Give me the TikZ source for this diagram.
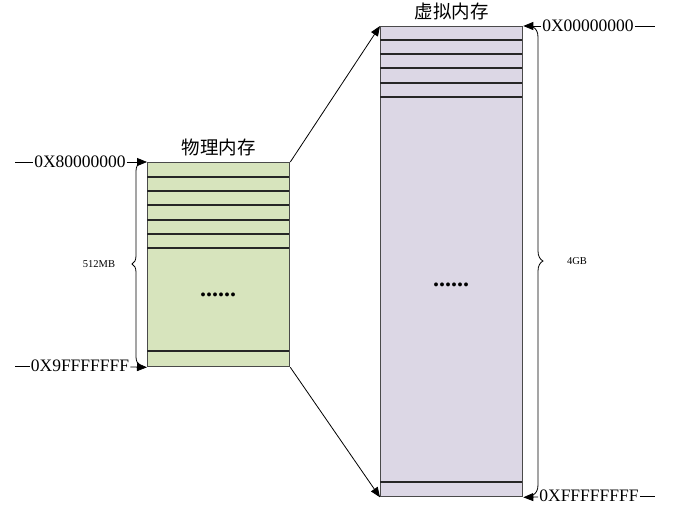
\documentclass[tikz,border=0pt]{standalone}
\usepackage{fontspec}
\setmainfont{Liberation Serif}
\newfontfamily\cjkfont{Noto Sans CJK SC}
\usetikzlibrary{arrows.meta,decorations.pathreplacing,positioning}
\definecolor{memPhys}{HTML}{D7E4BD}
\definecolor{memVirt}{HTML}{DCD7E5}
\definecolor{memEdge}{HTML}{4A4A4A}
\tikzset{
  mem diagram/.style={x=1pt, y=-1pt, line join=miter},
  mem box/.style={draw=memEdge, line width=1.3pt, minimum width=142pt,
    inner sep=0pt, anchor=north west},
  mem row/.style={draw=black!85, line width=1.1pt},
  mem arrow/.style={-{Triangle[length=10pt,width=8pt]}, draw=black, line width=0.8pt},
  mem lead/.style={draw=black, line width=0.8pt},
  addr label/.style={font=\fontsize{17.5}{17.5}\selectfont, inner sep=1pt},
  size label/.style={font=\fontsize{10.5}{10.5}\selectfont},
  mem title/.style={font=\cjkfont\fontsize{18.5}{18.5}\selectfont},
  mem dots/.style={font=\bfseries\fontsize{24}{24}\selectfont},
  mem brace/.style={decorate, decoration={brace, amplitude=8pt},
    draw=black, line width=0.8pt}
}
\begin{document}
\begin{tikzpicture}[mem diagram]
\useasboundingbox (0,0) rectangle (697,517);
% physical memory
\node[mem box, fill=memPhys, minimum height=204pt] (phys) at (147,162) {};
\foreach \y in {177,191,205,220,234,248,351}
  \draw[mem row] (147,\y) -- (289,\y);
\node[mem title, above=2pt of phys] (phys title) {物理内存};
\node[mem dots] (phys dots) at (218,295) {......};
% virtual memory
\node[mem box, fill=memVirt, minimum height=470pt] (virt) at (380,26) {};
\foreach \y in {40,54,68,83,97,482}
  \draw[mem row] (380,\y) -- (522,\y);
\node[mem title, above=2pt of virt] (virt title) {虚拟内存};
\node[mem dots] (virt dots) at (451,285) {......};
% mapping
\draw[mem arrow] (phys.north east) -- (virt.north west);
\draw[mem arrow] (phys.south east) -- (virt.south west);
% physical addresses
\node[addr label] (addr80) at (80,162) {0X80000000};
\coordinate (addr80 lead) at (15,162);
\draw[mem lead] (addr80 lead) -- (addr80);
\draw[mem arrow] (addr80) -- (phys.north west);
\node[addr label] (addr9f) at (80,366) {0X9FFFFFFF};
\coordinate (addr9f lead) at (15,366);
\draw[mem lead] (addr9f lead) -- (addr9f);
\draw[mem arrow] (addr9f) -- (phys.south west);
\coordinate (phys brace top) at (140,163);
\coordinate (phys brace bot) at (140,365);
\draw[mem brace] (phys brace bot) -- (phys brace top);
\node[size label] (phys size) at (99,264) {512MB};
% virtual addresses
\node[addr label] (addr00) at (588,26) {0X00000000};
\coordinate (addr00 lead) at (655,26);
\draw[mem lead] (addr00) -- (addr00 lead);
\draw[mem arrow] (addr00) -- (virt.north east);
\node[addr label] (addrff) at (589,496) {0XFFFFFFFF};
\coordinate (addrff lead) at (655,496);
\draw[mem lead] (addrff) -- (addrff lead);
\draw[mem arrow] (addrff) -- (virt.south east);
\coordinate (virt brace top) at (533,27);
\coordinate (virt brace bot) at (533,495);
\draw[mem brace, decoration={amplitude=10pt}] (virt brace top) -- (virt brace bot);
\node[size label] (virt size) at (577,261) {4GB};
\end{tikzpicture}
\end{document}
